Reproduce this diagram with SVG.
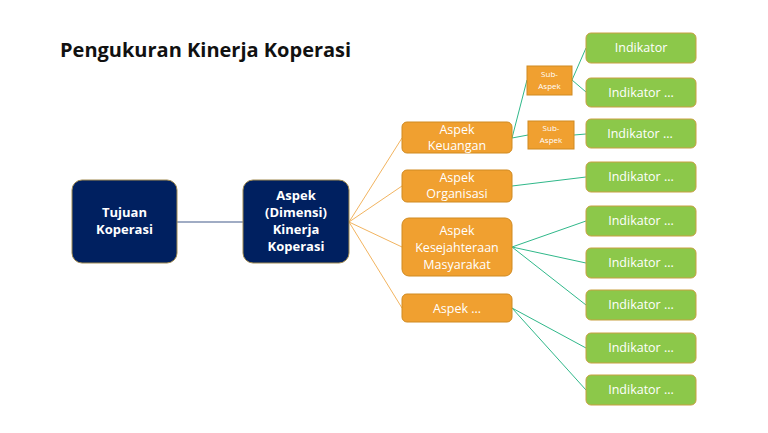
<svg xmlns="http://www.w3.org/2000/svg" width="768" height="433" viewBox="0 0 768 433">
<style>
text{font-family:"Open Sans","Noto Sans",sans-serif;text-anchor:middle}
.d{fill:#002060;stroke:#a08a50;stroke-width:1}
.dt{fill:#fff;font-size:13px;font-weight:bold}
.o{fill:#f0a030;stroke:#d08a20;stroke-width:1}
.ot{fill:#fff;font-size:12.5px}
.g{fill:#8cc84a;stroke:#c8a040;stroke-width:1}
.gt{fill:#fff;font-size:12.5px}
.st{fill:#fff;font-size:8px}
.lo{stroke:#f2b460;stroke-width:1;fill:none}
.lg{stroke:#30b88a;stroke-width:1;fill:none}
</style>
<rect width="768" height="433" fill="#fff"/>
<text x="60" y="57" style="text-anchor:start;font-size:20px;font-weight:bold;fill:#111;font-family:'Open Sans',sans-serif">Pengukuran Kinerja Koperasi</text>
<g id="connectors">
<line x1="177" y1="222" x2="243" y2="222" stroke="#8090b0" stroke-width="1.5"/>
<path class="lo" d="M349 222L402 138M349 222L402 186M349 222L402 247M349 222L402 308"/>
<path class="lg" d="M512 138L527 80M512 138L528 135M572 80L586 48M572 80L586 92M574 135L586 134M512 186L586 177M512 247L586 221M512 247L586 263M512 247L586 305M512 308L586 348M512 308L586 390"/>
</g>
<g id="tujuan"><rect class="d" x="72" y="180" width="105" height="83" rx="10"/><text class="dt" x="124.5" y="217">Tujuan</text><text class="dt" x="124.5" y="234">Koperasi</text></g>
<g id="aspek-dimensi"><rect class="d" x="243" y="180" width="106" height="83" rx="10"/><text class="dt" x="296" y="200">Aspek</text><text class="dt" x="296" y="217">(Dimensi)</text><text class="dt" x="296" y="234">Kinerja</text><text class="dt" x="296" y="251">Koperasi</text></g>
<g id="keuangan"><rect class="o" x="402" y="122" width="110" height="31" rx="5"/><text class="ot" x="457" y="134">Aspek</text><text class="ot" x="457" y="150">Keuangan</text></g>
<g id="organisasi"><rect class="o" x="402" y="170" width="110" height="32" rx="5"/><text class="ot" x="457" y="182">Aspek</text><text class="ot" x="457" y="198">Organisasi</text></g>
<g id="kesejahteraan"><rect class="o" x="402" y="218" width="110" height="58" rx="7"/><text class="ot" x="457" y="235">Aspek</text><text class="ot" x="457" y="252">Kesejahteraan</text><text class="ot" x="457" y="269">Masyarakat</text></g>
<g id="aspek-lain"><rect class="o" x="402" y="294" width="110" height="28" rx="5"/><text class="ot" x="457" y="313">Aspek ...</text></g>
<g id="sub1"><rect class="o" x="527" y="66" width="45" height="29"/><text class="st" x="549.5" y="77">Sub-</text><text class="st" x="549.5" y="89">Aspek</text></g>
<g id="sub2"><rect class="o" x="528" y="121" width="46" height="28"/><text class="st" x="551" y="131">Sub-</text><text class="st" x="551" y="143">Aspek</text></g>
<g id="ind1"><rect class="g" x="586" y="33" width="110" height="30" rx="5"/><text class="gt" x="641" y="52">Indikator</text></g>
<g id="ind2"><rect class="g" x="586" y="78" width="110" height="29" rx="5"/><text class="gt" x="641" y="97">Indikator ...</text></g>
<g id="ind3"><rect class="g" x="586" y="119" width="110" height="29" rx="5"/><text class="gt" x="640" y="138">Indikator ...</text></g>
<g id="ind4"><rect class="g" x="586" y="162" width="110" height="30" rx="5"/><text class="gt" x="641" y="181">Indikator ...</text></g>
<g id="ind5"><rect class="g" x="586" y="206" width="110" height="30" rx="5"/><text class="gt" x="641" y="225">Indikator ...</text></g>
<g id="ind6"><rect class="g" x="586" y="248" width="110" height="30" rx="5"/><text class="gt" x="641" y="267">Indikator ...</text></g>
<g id="ind7"><rect class="g" x="586" y="290" width="110" height="30" rx="5"/><text class="gt" x="641" y="309">Indikator ...</text></g>
<g id="ind8"><rect class="g" x="586" y="333" width="110" height="30" rx="5"/><text class="gt" x="641" y="352">Indikator ...</text></g>
<g id="ind9"><rect class="g" x="586" y="375" width="110" height="30" rx="5"/><text class="gt" x="641" y="394">Indikator ...</text></g>
</svg>
